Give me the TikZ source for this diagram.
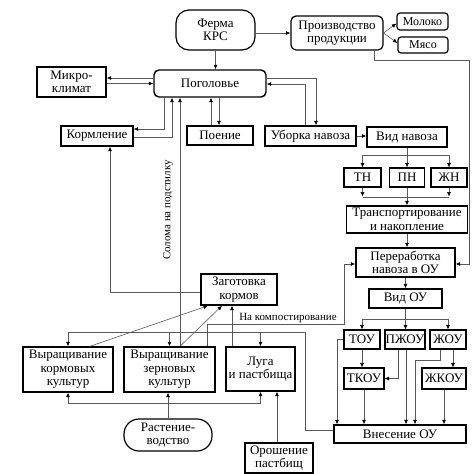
\documentclass[tikz,border=0pt]{standalone}
\usepackage{fontspec}
\setmainfont{Liberation Serif}
\usetikzlibrary{arrows.meta}
\begin{document}
\begin{tikzpicture}[x=1pt,y=-1pt,
  box/.style={draw=black,line width=1.4pt,inner sep=0pt,align=center,font=\fontsize{13}{13.5}\selectfont},
  sbox/.style={box,line width=1.1pt},
  rbox/.style={box,line width=1.2pt,rounded corners=5pt},
  arr/.style={draw=black!65,line width=0.6pt,-{Latex[length=4.5pt,width=4pt,color=black]}},
  ln/.style={draw=black!65,line width=0.6pt},
  lbl/.style={inner sep=0pt,font=\fontsize{11}{11}\selectfont}]
\useasboundingbox (0,0) rectangle (474,474);
% nodes
\node[rbox,rounded corners=13pt,minimum width=79pt,minimum height=40pt] (ferma) at (215.5,30) {Ферма\\КРС};
\node[rbox,minimum width=92pt,minimum height=34pt] (proizv) at (337,33) {Производство\\продукции};
\node[rbox,rounded corners=3pt,font=\fontsize{12}{12}\selectfont,minimum width=51pt,minimum height=17pt] (moloko) at (422.5,21.5) {Молоко};
\node[rbox,rounded corners=3pt,font=\fontsize{12}{12}\selectfont,minimum width=50pt,minimum height=16pt] (myaso) at (423,45) {Мясо};
\node[rbox,line width=1.4pt,minimum width=112pt,minimum height=27pt] (pog) at (210,83.5) {Поголовье};
\node[box,minimum width=69pt,minimum height=30pt] (mikro) at (71.5,82) {Микро-\\климат};
\node[box,minimum width=72pt,minimum height=20pt] (korm) at (97,136) {Кормление};
\node[box,minimum width=66pt,minimum height=19pt] (poen) at (220,135.5) {Поение};
\node[box,minimum width=91pt,minimum height=20pt] (uborka) at (310.5,136) {Уборка навоза};
\node[box,minimum width=80pt,minimum height=20pt] (vidnav) at (407,137) {Вид навоза};
\node[sbox,minimum width=37pt,minimum height=19pt] (tn) at (362.5,177.5) {ТН};
\node[sbox,minimum width=35pt,minimum height=19pt] (pn) at (407,177.5) {ПН};
\node[sbox,minimum width=36pt,minimum height=19pt] (zhn) at (449,177.5) {ЖН};
\node[box,minimum width=121pt,minimum height=27pt] (trans) at (407,219.5) {Транспортирование\\и накопление};
\node[box,minimum width=99pt,minimum height=29pt] (perer) at (405.5,262.5) {Переработка\\навоза в ОУ};
\node[box,minimum width=73pt,minimum height=19pt] (vidou) at (405.5,298.5) {Вид ОУ};
\node[sbox,minimum width=36pt,minimum height=19pt] (tou) at (362,339.5) {ТОУ};
\node[sbox,minimum width=40pt,minimum height=19pt] (pzhou) at (405,339.5) {ПЖОУ};
\node[sbox,minimum width=36pt,minimum height=19pt] (zhou) at (448,339.5) {ЖОУ};
\node[sbox,minimum width=40pt,minimum height=21pt] (tkou) at (364,378.5) {ТКОУ};
\node[sbox,minimum width=44pt,minimum height=21pt] (zhkou) at (444,378.5) {ЖКОУ};
\node[box,minimum width=132pt,minimum height=18pt] (vnes) at (400,434) {Внесение ОУ};
\node[box,minimum width=76pt,minimum height=31pt] (zag) at (239,289.5) {Заготовка\\кормов};
\node[box,minimum width=90pt,minimum height=45pt] (vyrk) at (68,369.5) {Выращивание\\кормовых\\культур};
\node[box,minimum width=91pt,minimum height=45pt] (vyrz) at (169.5,369.5) {Выращивание\\зерновых\\культур};
\node[box,minimum width=69pt,minimum height=44pt] (luga) at (260.5,369) {Луга\\и пастбища};
\node[rbox,rounded corners=15pt,minimum width=88pt,minimum height=32pt] (rast) at (168,435) {Растение-\\водство};
\node[box,minimum width=68pt,minimum height=30pt] (orosh) at (279,458) {Орошение\\пастбищ};
% labels
\node[lbl,rotate=90] (soloma) at (168,210) {Солома на подстилку};
\node[lbl] (komp) at (288,318.5) {На компостирование};
% connectors top
\draw[arr] (ferma.south) -- (ferma.south |- pog.north);
\draw[arr] (ferma.east |- proizv.west) -- (proizv.west);
\draw[arr] (proizv.east) -- ([yshift=-2pt]moloko.west);
\draw[arr] (proizv.east) -- ([yshift=2pt]myaso.west);
\draw[arr] ([xshift=37pt]proizv.south) -- ++(0,10) -| ([xshift=14pt,yshift=-1.5pt]perer.east) -- ([yshift=-1.5pt]perer.east);
\draw[arr] ([yshift=5.5pt]pog.west) -- ([yshift=5.5pt]pog.west -| mikro.east);
\draw[arr] (mikro.east |- pog.west) -- (pog.west);
\draw[arr] ([xshift=-46pt]pog.south) |- ([yshift=7pt]korm.east);
\draw[arr] ([yshift=-1pt]korm.east) -| ([xshift=-38pt]pog.south);
\draw[arr] ([xshift=-9pt]poen.north) -- ([xshift=-9pt]poen.north |- pog.south);
\draw[arr] ([xshift=-1pt]poen.north |- pog.south) -- ([xshift=-1pt]poen.north);
\draw[arr] ([yshift=5.5pt]pog.east) -| ([xshift=5.5pt]uborka.north);
\draw[arr] ([xshift=-5.5pt]uborka.north) |- ([yshift=-0.5pt]pog.east);
\draw[arr] (uborka.east) -- (uborka.east -| vidnav.west);
% manure types
\draw[arr] (vidnav.south) -- (pn.north);
\draw[arr] (vidnav.south) ++(0,8) -| (tn.north);
\draw[arr] (vidnav.south) ++(0,8) -| (zhn.north);
\draw[arr] (tn.south) -- ++(0,9);
\draw[arr] (zhn.south) -- ++(0,9);
\draw[ln] ([yshift=-10pt]tn.south) -- ([yshift=-10pt]tn.south -| zhn.south);
\draw[arr] (pn.south) -- (trans.north);
\draw[arr] (trans.south) -- (trans.south |- perer.north);
\draw[arr] (perer.south) -- (perer.south |- vidou.north);
% OU types
\draw[arr] (vidou.south) -- (vidou.south |- pzhou.north);
\draw[arr] (vidou.south) ++(0,11) -| (tou.north);
\draw[arr] (vidou.south) ++(0,11) -| (zhou.north);
\draw[arr] (tou.south) -- (tou.south |- tkou.north);
\draw[arr] ([xshift=-7pt]pzhou.south) |- (tkou.east);
\draw[arr] ([xshift=5pt]zhou.south) -- ([xshift=5pt]zhou.south |- zhkou.north);
\draw[arr] (tou.west) -| ([xshift=-63pt]vnes.north);
\draw[arr] (tkou.south) -- (tkou.south |- vnes.north);
\draw[arr] ([xshift=1pt]pzhou.south) -- ([xshift=1pt]pzhou.south |- vnes.north);
\draw[arr] ([xshift=-8pt]zhou.south) -- ++(0,11) -| ([xshift=15pt]vnes.north);
\draw[arr] (zhkou.south) -- (zhkou.south |- vnes.north);
% application to crops
\draw[ln] ([yshift=4pt]vnes.west) -| ([xshift=44.5pt,yshift=14pt]luga.north) -- ([yshift=14pt]vyrk.north);
\draw[arr] ([yshift=14pt]luga.north) -- (luga.north);
\draw[arr] ([yshift=14pt]vyrz.north) -- (vyrz.north);
\draw[arr] ([yshift=14pt]vyrk.north) -- (vyrk.north);
% composting
\draw[arr] ([xshift=37.5pt]vyrz.north) -- ([xshift=37.5pt,yshift=22pt]vyrz.north) -| ([xshift=-11pt,yshift=-1.5pt]perer.west) -- ([yshift=-1.5pt]perer.west);
% straw
\draw[arr] ([xshift=10.5pt]vyrz.north) -- ([xshift=10.5pt]vyrz.north |- pog.south);
% to feed prep
\draw[arr] ([xshift=22pt]vyrk.north) -- ([xshift=-31pt]zag.south);
\draw[arr] ([xshift=10.5pt]vyrz.north) -- ([xshift=-17pt]zag.south);
\draw[arr] ([xshift=-28.5pt]luga.north) -- ([xshift=-28.5pt]luga.north |- zag.south);
\draw[arr] ([yshift=-2.5pt]zag.west) -| ([xshift=13pt]korm.south);
% plant growing
\draw[arr] (rast.north) -- (rast.north |- vyrz.south);
\draw[ln] ([yshift=-11pt]vyrk.south) -- ([yshift=-11pt]vyrk.south -| luga.south);
\draw[arr] ([yshift=-11pt]vyrk.south) -- (vyrk.south);
\draw[arr] ([yshift=-11pt]vyrk.south -| luga.south) -- (luga.south);
\draw[arr] ([xshift=-2pt]orosh.north) -- ([xshift=-2pt]orosh.north |- luga.south);
\end{tikzpicture}
\end{document}
